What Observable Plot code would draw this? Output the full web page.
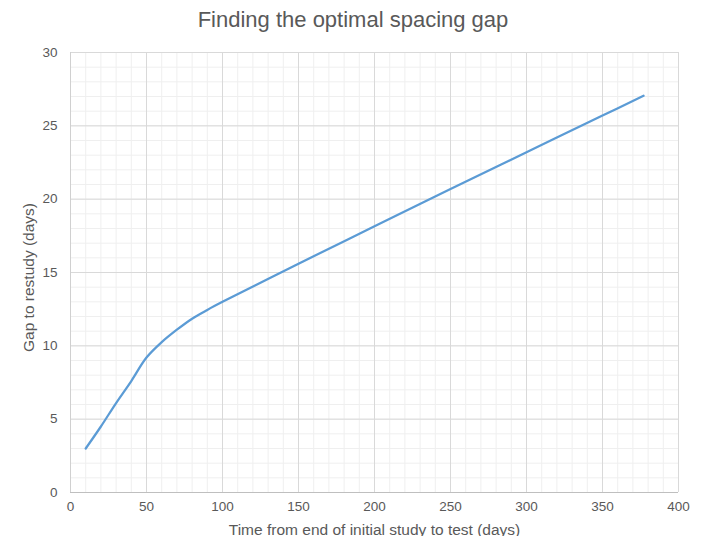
<!DOCTYPE html>
<html>
<head>
<meta charset="utf-8">
<script src="https://cdn.jsdelivr.net/npm/d3@7"></script>
<script src="https://cdn.jsdelivr.net/npm/@observablehq/plot@0.6"></script>
<style>
  html, body { margin: 0; padding: 0; background: #fff; }
  body { width: 706px; height: 536px; overflow: hidden; font-family: "Liberation Sans", Arial, sans-serif; }
  #title { height: 40px; line-height: 40px; text-align: center; font-size: 22px; color: #595959; }
</style>
</head>
<body>
<div id="title">Finding the optimal spacing gap</div>
<div id="chart"></div>
<script>
// Data
const testDelay = [10, 20, 30, 40, 50, 60, 70, 80, 90, 100, 150, 200, 250, 300, 350, 377];
const restudyGap = [3.0, 4.5, 6.1, 7.6, 9.2, 10.25, 11.1, 11.85, 12.45, 13.0, 15.6, 18.15, 20.7, 23.2, 25.7, 27.05];
const xTicks = [0, 50, 100, 150, 200, 250, 300, 350, 400];
const yTicks = [0, 5, 10, 15, 20, 25, 30];
const xLabel = "Time from end of initial study to test (days)";
const yLabel = "Gap to restudy (days)";

const data = testDelay.map((x, i) => ({x, y: restudyGap[i]}));
const minorX = d3.range(0, 401, 10);
const minorY = d3.range(0, 31, 1);

const chart = Plot.plot({
  width: 706,
  height: 496,
  marginTop: 12,
  marginBottom: 44,
  marginLeft: 70,
  marginRight: 28,
  style: {fontFamily: "'Liberation Sans', Arial, sans-serif", fontSize: "13px", color: "#595959", background: "#fff", overflow: "visible"},
  x: {domain: [0, 400]},
  y: {domain: [0, 30]},
  marks: [
    Plot.ruleX(minorX, {stroke: "#efefef", strokeWidth: 1}),
    Plot.ruleY(minorY, {stroke: "#efefef", strokeWidth: 1}),
    Plot.ruleX(xTicks.filter(d => d > 0), {stroke: "#d9d9d9", strokeWidth: 1}),
    Plot.ruleY(yTicks.filter(d => d > 0), {stroke: "#d9d9d9", strokeWidth: 1}),
    Plot.ruleX([0], {stroke: "#d0d0d0", strokeWidth: 1}),
    Plot.ruleY([0], {stroke: "#bfbfbf", strokeWidth: 1}),
    Plot.line(data, {x: "x", y: "y", stroke: "#5b9bd5", strokeWidth: 2.25, curve: "catmull-rom"}),
    Plot.axisX(xTicks, {tickSize: 0, tickPadding: 9, fontSize: 13.5, fill: "#595959", label: null}),
    Plot.axisY(yTicks, {tickSize: 0, tickPadding: 13, fontSize: 13.5, fill: "#595959", label: null}),
    Plot.text([xLabel], {frameAnchor: "bottom", textAnchor: "middle", lineAnchor: "top", dy: 31, fontSize: 15.5, fill: "#595959"}),
    Plot.text([yLabel], {frameAnchor: "left", textAnchor: "middle", rotate: -90, dx: -41, dy: 5, fontSize: 15.5, fill: "#595959"})
  ]
});
document.getElementById("chart").appendChild(chart);
</script>
</body>
</html>
